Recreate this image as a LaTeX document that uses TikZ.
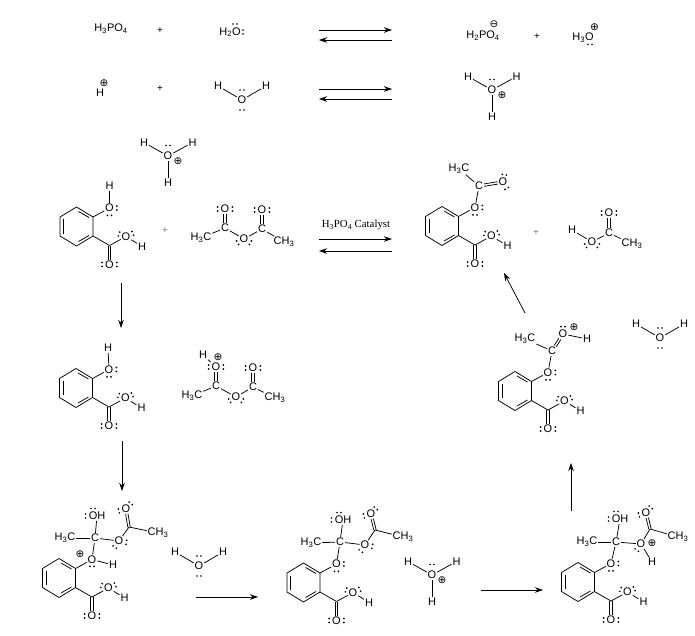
\documentclass[tikz,border=0pt]{standalone}
\usepackage{fontspec}
\setmainfont{Liberation Sans}
\newfontfamily\symbolfont{DejaVu Sans}
\newfontfamily\labelfont{Liberation Serif}
\usetikzlibrary{arrows.meta,calc}

% two dots per angle round an atom
\newcommand{\lonepairs}[3][7.4]{%
  \foreach \a in {#3} {
    \foreach \s in {-2,2} {
      \fill ($(#2)+(\a:#1)+(\a+90:\s)$) circle (0.95);
    }
  }
}
% two parallel strokes between two atoms
\newcommand{\dbond}[2]{%
  \coordinate (gapa) at ($(0,0)!1.2pt!90:($(#2)-(#1)$)$);
  \coordinate (gapb) at ($(0,0)!-1.2pt!90:($(#2)-(#1)$)$);
  \draw[bond, transform canvas={shift={(gapa)}}] (#1) -- (#2);
  \draw[bond, transform canvas={shift={(gapb)}}] (#1) -- (#2);
}
% ring with the acid group, O left without its other bonds
\newcommand{\acidring}[3]{%
  \begin{scope}[shift={(#2,#3)}]
    \draw[bond] (0,-19.5) -- (16.5,-9.5) coordinate (#1a) -- (16.5,9.5) coordinate (#1b) -- (0,19.5) -- (-16.5,9.5) -- (-16.5,-9.5) -- cycle;
    \draw[bond] (-13,7) -- (-13,-7);
    \draw[bond] (2,-15) -- (12.5,-9);
    \draw[bond] (2,15) -- (12.5,9);
    \node[atom] (#1O) at (33,-18.5) {O};
    \coordinate (#1C) at (33,19);
    \node[atom] (#1D) at (33,38) {O};
    \node[atom] (#1E) at (49.5,10) {O};
    \node[atom] (#1H) at (65.5,20) {H};
    \draw[bond] (#1a) -- (#1O);
    \draw[bond] (#1b) -- (#1C);
    \draw[bond] (#1C) -- (#1E);
    \draw[bond] (#1E) -- (#1H);
  \end{scope}
  \dbond{#1C}{#1D}
  \lonepairs{#1D}{0,180}
  \lonepairs{#1E}{200,335}
}
% bent water
\newcommand{\water}[3]{%
  \begin{scope}[shift={(#2,#3)}]
    \node[atom] (#1O) at (0,0) {O};
    \node[atom] (#1L) at (-24,-14) {H};
    \node[atom] (#1R) at (24,-14) {H};
    \draw[bond] (#1O) -- (#1L);
    \draw[bond] (#1O) -- (#1R);
  \end{scope}
  \lonepairs[10]{#1O}{90,270}
}
% water with a third H
\newcommand{\hydronium}[3]{%
  \begin{scope}[shift={(#2,#3)}]
    \node[atom] (#1O) at (0,0) {O};
    \node[atom] (#1L) at (-24,-13.5) {H};
    \node[atom] (#1R) at (24.5,-13.5) {H};
    \node[atom] (#1B) at (0,27) {H};
    \node[charge] (#1p) at (10,5.5) {⊕};
    \draw[bond] (#1O) -- (#1L);
    \draw[bond] (#1O) -- (#1R);
    \draw[bond] (#1O) -- (#1B);
  \end{scope}
  \lonepairs[10.5]{#1O}{270}
}

\begin{document}
\begin{tikzpicture}[
    x=1pt, y=-1pt,
    atom/.style={inner sep=0.8pt, font=\fontsize{11}{12}\selectfont},
    charge/.style={inner sep=0pt, font=\fontsize{10.5}{11}\symbolfont},
    plus sign/.style={inner sep=0pt, yshift=-1.5pt, font=\fontsize{10}{10}\selectfont},
    bond/.style={line width=0.75pt},
    reaction/.style={line width=0.75pt, -{Stealth[length=8pt,width=5.5pt]}}
]
\useasboundingbox (0,0) rectangle (695,636);

% First equilibrium
\node[atom] (acid) at (111,29) {H\textsubscript{3}PO\textsubscript{4}};
\node[plus sign] (plusa) at (160,29) {+};
\node[atom] (watera) at (230,32) {H\textsubscript{2}O};
\coordinate (wateraO) at (235,32);
\lonepairs[8]{wateraO}{270,0}
\coordinate (ea1) at (319,30); \coordinate (ea2) at (392,30);
\coordinate (ea3) at (392,40); \coordinate (ea4) at (319,40);
\draw[reaction] (ea1) -- (ea2);
\draw[reaction] (ea3) -- (ea4);
\node[atom] (base) at (483,35.5) {H\textsubscript{2}PO\textsubscript{4}};
\node[charge] (basem) at (494,24.5) {⊖};
\node[plus sign] (plusb) at (537,35) {+};
\node[atom] (hyda) at (583,38) {H\textsubscript{3}O};
\node[charge] (hydap) at (594.5,27) {⊕};
\coordinate (hydaO) at (590,38);
\lonepairs[6.5]{hydaO}{90}

% Second equilibrium
\node[atom] (proton) at (100,93) {H};
\node[charge] (protonp) at (104,83) {⊕};
\node[plus sign] (plusc) at (160,87) {+};
\water{wb}{242}{100}
\coordinate (eb1) at (319,89); \coordinate (eb2) at (392,89);
\coordinate (eb3) at (392,99); \coordinate (eb4) at (319,99);
\draw[reaction] (eb1) -- (eb2);
\draw[reaction] (eb3) -- (eb4);
\hydronium{hb}{492}{90}

% Hydronium above the start
\hydronium{hc}{168}{156}

% Start of the main reaction
\acidring{sa}{76.5}{226.5}
\node[atom] (saH) at (109.5,186) {H};
\draw[bond] (saO) -- (saH);
\lonepairs{saO}{0,90}
\node[plus sign, gray] (plusd) at (165,229) {+};
\node[atom] (ahA) at (225,209) {O};
\node[atom] (ahB) at (225,228) {C};
\node[atom] (ahC) at (201,238) {H\textsubscript{3}C};
\node[atom] (ahD) at (244,239) {O};
\node[atom] (ahE) at (262,229) {C};
\node[atom] (ahF) at (262,210) {O};
\node[atom] (ahG) at (284,242) {CH\textsubscript{3}};
\dbond{ahA}{ahB}
\draw[bond] (ahB) -- (ahC);
\draw[bond] (ahB) -- (ahD);
\draw[bond] (ahD) -- (ahE);
\dbond{ahE}{ahF}
\draw[bond] (ahE) -- (ahG);
\lonepairs{ahA}{0,180}
\lonepairs{ahF}{0,180}
\lonepairs{ahD}{150,30}

% Catalyst arrows
\node[inner sep=0pt, font=\fontsize{10.8}{11}\labelfont] (catalyst) at (356,225) {H\textsubscript{3}PO\textsubscript{4} Catalyst};
\coordinate (ec1) at (319,239); \coordinate (ec2) at (392,239);
\coordinate (ec3) at (392,251); \coordinate (ec4) at (319,251);
\draw[reaction] (ec1) -- (ec2);
\draw[reaction] (ec3) -- (ec4);

% Aspirin and acetic acid
\acidring{sg}{442}{226}
\node[atom] (sgc) at (479,186) {C};
\node[atom] (sgd) at (503,182) {O};
\node[atom] (sge) at (459,169) {H\textsubscript{3}C};
\draw[bond] (sgO) -- (sgc);
\dbond{sgc}{sgd}
\draw[bond] (sgc) -- (sge);
\lonepairs{sgO}{0,90}
\lonepairs{sgd}{280,60}
\node[plus sign, gray] (pluse) at (536,231) {+};
\node[atom] (aaA) at (609,213) {O};
\node[atom] (aaB) at (609,233) {C};
\node[atom] (aaC) at (592,242) {O};
\node[atom] (aaD) at (572,230) {H};
\node[atom] (aaE) at (632,244) {CH\textsubscript{3}};
\dbond{aaA}{aaB}
\draw[bond] (aaB) -- (aaC);
\draw[bond] (aaC) -- (aaD);
\draw[bond] (aaB) -- (aaE);
\lonepairs{aaA}{0,180}
\lonepairs{aaC}{150,30}

% Step down to the protonated anhydride
\coordinate (da1) at (121,283); \coordinate (da2) at (121,328);
\draw[reaction] (da1) -- (da2);
\acidring{sb}{76}{388}
\node[atom] (sbH) at (108,348) {H};
\draw[bond] (sbO) -- (sbH);
\lonepairs{sbO}{0,90}
\node[atom] (apH) at (203,355) {H};
\node[charge] (app) at (218,357) {⊕};
\node[atom] (apA) at (216,367) {O};
\node[atom] (apB) at (216,386) {C};
\node[atom] (apC) at (192,396) {H\textsubscript{3}C};
\node[atom] (apD) at (236,397) {O};
\node[atom] (apE) at (253,387) {C};
\node[atom] (apF) at (253,368) {O};
\node[atom] (apG) at (275,398) {CH\textsubscript{3}};
\draw[bond] (apH) -- (apA);
\dbond{apA}{apB}
\draw[bond] (apB) -- (apC);
\draw[bond] (apB) -- (apD);
\draw[bond] (apD) -- (apE);
\dbond{apE}{apF}
\draw[bond] (apE) -- (apG);
\lonepairs{apA}{0,180}
\lonepairs{apF}{0,180}
\lonepairs{apD}{150,30}

% Attack on the carbonyl
\coordinate (db1) at (122,441); \coordinate (db2) at (122,491);
\draw[reaction] (db1) -- (db2);
\acidring{sc}{59}{578}
\node[atom] (scH) at (113,565) {H};
\node[charge] (scp) at (80,554) {⊕};
\node[atom] (scc) at (95,538) {C};
\node[atom] (scd) at (97,516) {OH};
\coordinate (scdO) at (93,516);
\node[atom] (sce) at (65,538) {H\textsubscript{3}C};
\node[atom] (scf) at (119,541) {O};
\coordinate (scg) at (129,527);
\node[atom] (sch) at (126,509) {O};
\node[atom] (sci) at (158,533) {CH\textsubscript{3}};
\draw[bond] (scO) -- (scH);
\draw[bond] (scO) -- (scc);
\draw[bond] (scc) -- (scd);
\draw[bond] (scc) -- (sce);
\draw[bond] (scc) -- (scf);
\draw[bond] (scf) -- (scg);
\dbond{scg}{sch}
\draw[bond] (scg) -- (sci);
\lonepairs[6.8]{scO}{90}
\lonepairs[7.5]{scdO}{180,270}
\lonepairs{scf}{125,10}
\lonepairs{sch}{165,310}
\water{wc}{199}{566}
\coordinate (ed1) at (196,597); \coordinate (ed2) at (258,597);
\draw[reaction] (ed1) -- (ed2);

% Deprotonated intermediate
\acidring{sd}{303.5}{582.5}
\node[atom] (sdc) at (340,542) {C};
\node[atom] (sdd) at (343,520) {OH};
\coordinate (sddO) at (339,520);
\node[atom] (sde) at (311,543) {H\textsubscript{3}C};
\node[atom] (sdf) at (365,545) {O};
\coordinate (sdg) at (375,530);
\node[atom] (sdh) at (371,514) {O};
\node[atom] (sdi) at (403,537) {CH\textsubscript{3}};
\draw[bond] (sdO) -- (sdc);
\draw[bond] (sdc) -- (sdd);
\draw[bond] (sdc) -- (sde);
\draw[bond] (sdc) -- (sdf);
\draw[bond] (sdf) -- (sdg);
\dbond{sdg}{sdh}
\draw[bond] (sdg) -- (sdi);
\lonepairs{sdO}{0,90}
\lonepairs[7.5]{sddO}{180,270}
\lonepairs{sdf}{125,10}
\lonepairs{sdh}{165,310}
\hydronium{hd}{432}{575}
\coordinate (ee1) at (481,590); \coordinate (ee2) at (543,590);
\draw[reaction] (ee1) -- (ee2);

% Proton moved to the ester oxygen
\acidring{se}{578}{582}
\node[atom] (sec) at (616,542) {C};
\node[atom] (sed) at (620,519) {OH};
\coordinate (sedO) at (616,519);
\node[atom] (see) at (587,542) {H\textsubscript{3}C};
\node[atom] (sef) at (641,544) {O};
\node[charge] (sep) at (652,543) {⊕};
\node[atom] (seH) at (652,562) {H};
\coordinate (seg) at (650,529);
\node[atom] (seh) at (646,513) {O};
\node[atom] (sei) at (678,537) {CH\textsubscript{3}};
\draw[bond] (seO) -- (sec);
\draw[bond] (sec) -- (sed);
\draw[bond] (sec) -- (see);
\draw[bond] (sec) -- (sef);
\draw[bond] (sef) -- (seH);
\draw[bond] (sef) -- (seg);
\dbond{seg}{seh}
\draw[bond] (seg) -- (sei);
\lonepairs{seO}{0,90}
\lonepairs[7.5]{sedO}{180,270}
\lonepairs{sef}{125}
\lonepairs{seh}{165,310}
\coordinate (uc1) at (571,511); \coordinate (uc2) at (571,463);
\draw[reaction] (uc1) -- (uc2);

% Protonated aspirin
\acidring{sf}{515}{391}
\node[atom] (sfc) at (552,351) {C};
\node[atom] (sfd) at (563,334) {O};
\node[atom] (sfH) at (587,339) {H};
\node[charge] (sfp) at (574,327) {⊕};
\node[atom] (sfe) at (525,339) {H\textsubscript{3}C};
\draw[bond] (sfO) -- (sfc);
\dbond{sfc}{sfd}
\draw[bond] (sfd) -- (sfH);
\draw[bond] (sfc) -- (sfe);
\lonepairs{sfO}{0,90}
\lonepairs{sfd}{270}
\water{wf}{660}{338}
\coordinate (uf1) at (525,313); \coordinate (uf2) at (504,273);
\draw[reaction] (uf1) -- (uf2);

\end{tikzpicture}
\end{document}
